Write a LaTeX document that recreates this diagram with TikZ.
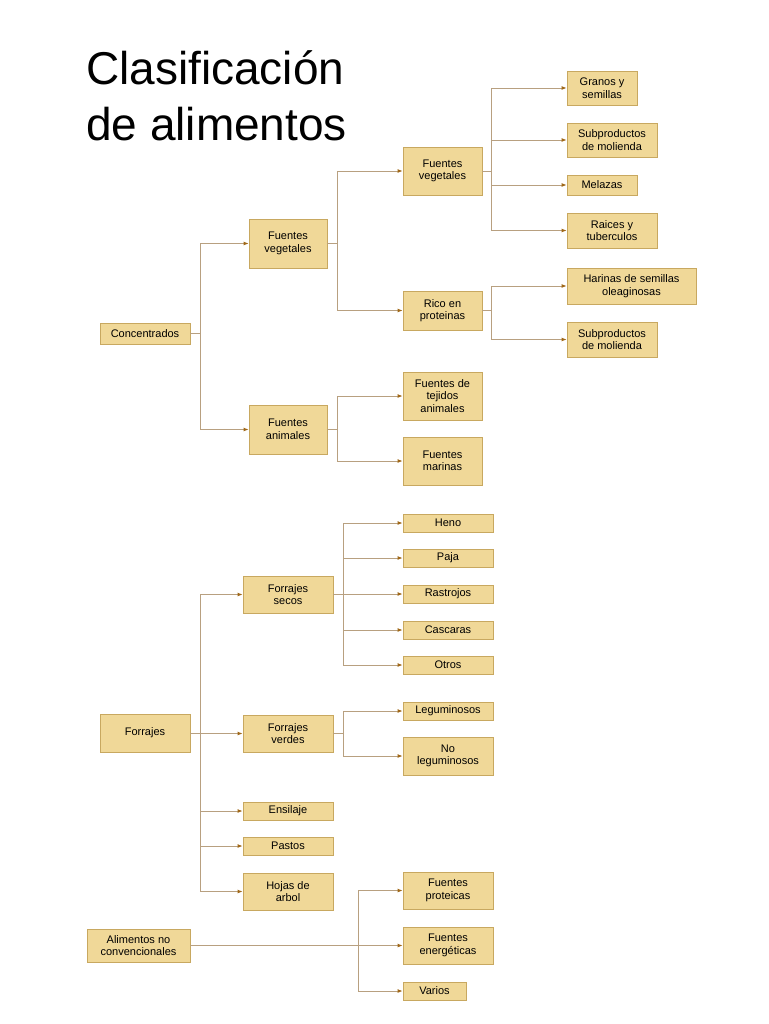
\documentclass[tikz,border=0pt]{standalone}
\usepackage{fontspec}
\setmainfont{Liberation Sans}
\usetikzlibrary{arrows.meta}
\definecolor{boxfill}{HTML}{F0D898}
\definecolor{boxline}{HTML}{C8A860}
\definecolor{edgec}{HTML}{B8A080}
\definecolor{tipc}{HTML}{A06818}
\begin{document}
\begin{tikzpicture}[x=1pt,y=-1pt,
  box/.style={draw=boxline,fill=boxfill,line width=0.8pt,inner sep=1pt,align=center,font=\fontsize{11}{12.5}\selectfont},
  ed/.style={draw=edgec,line width=0.9pt,-{Latex[length=5pt,width=4pt,color=tipc]}}]
\useasboundingbox (0,0) rectangle (768,1024);
\newcommand\bx[6]{\node[box,minimum width={#4-#2},minimum height={#5-#3}] (#1) at ({(#2+#4)/2},{(#3+#5)/2}) {#6};}
\node[anchor=north west,align=left,font=\fontsize{46}{56}\selectfont,inner sep=0pt] (title) at (86,50) {Clasificación\\de alimentos};
\bx{conc}{100}{323}{190}{344}{Concentrados}
\bx{fv1}{249}{219}{327}{268}{Fuentes\\vegetales}
\bx{fa}{249}{405}{327}{454}{Fuentes\\animales}
\bx{fv2}{403}{147}{482}{195}{Fuentes\\vegetales}
\bx{rico}{403}{291}{482}{330}{Rico en\\proteinas}
\bx{gran}{567}{71}{637}{105}{Granos y\\semillas}
\bx{sub1}{567}{123}{657}{157}{Subproductos\\de molienda}
\bx{mel}{567}{175}{637}{195}{Melazas}
\bx{rai}{567}{213}{657}{248}{Raices y\\tuberculos}
\bx{har}{567}{268}{696}{304}{Harinas de semillas\\oleaginosas}
\bx{sub2}{567}{322}{657}{357}{Subproductos\\de molienda}
\bx{tej}{403}{372}{482}{420}{Fuentes de\\tejidos\\animales}
\bx{mar}{403}{437}{482}{485}{Fuentes\\marinas}
\bx{forr}{100}{714}{190}{752}{Forrajes}
\bx{sec}{243}{576}{333}{613}{Forrajes\\secos}
\bx{heno}{403}{514}{493}{532}{Heno}
\bx{paja}{403}{549}{493}{567}{Paja}
\bx{ras}{403}{585}{493}{603}{Rastrojos}
\bx{cas}{403}{621}{493}{639}{Cascaras}
\bx{otr}{403}{656}{493}{674}{Otros}
\bx{ver}{243}{715}{333}{752}{Forrajes\\verdes}
\bx{leg}{403}{702}{493}{720}{Leguminosos}
\bx{noleg}{403}{737}{493}{775}{No\\leguminosos}
\bx{ens}{243}{802}{333}{820}{Ensilaje}
\bx{pas}{243}{837}{333}{855}{Pastos}
\bx{hoj}{243}{873}{333}{910}{Hojas de\\arbol}
\bx{alim}{87}{929}{190}{962}{Alimentos no\\convencionales}
\bx{prot}{403}{872}{493}{909}{Fuentes\\proteicas}
\bx{ener}{403}{927}{493}{964}{Fuentes\\energéticas}
\bx{var}{403}{982}{466}{1000}{Varios}
\foreach \a/\d/\bs in {conc/10/{fv1,fa}, fv1/10/{fv2,rico}, fa/10/{tej,mar},
  fv2/9/{gran,sub1,mel,rai}, rico/9/{har,sub2}, forr/10/{sec,ver,ens,pas,hoj},
  sec/10/{heno,paja,ras,cas,otr}, ver/10/{leg,noleg}, alim/168/{prot,ener,var}}{
  \foreach \b in \bs {\draw[ed] (\a.east) -- ++(\d,0) |- (\b.west);}
}
\end{tikzpicture}
\end{document}
